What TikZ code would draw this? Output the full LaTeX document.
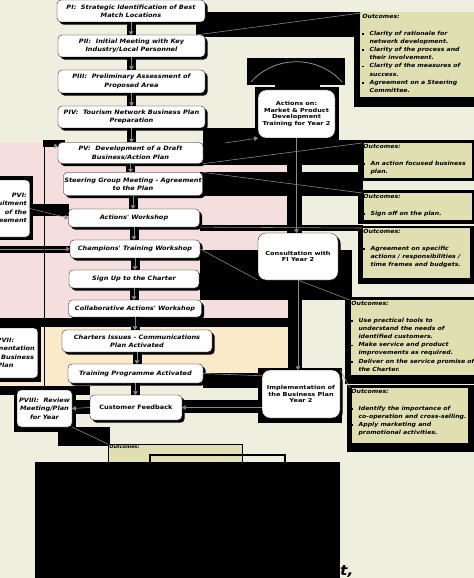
\documentclass[tikz,border=0pt]{standalone}
\usepackage{fontspec}
\usepackage{tikz}
\usetikzlibrary{arrows.meta,calc,shadows}

\newfontfamily\dvsans[FakeStretch=1.1,BoldFont={DejaVu Sans Bold},ItalicFont={DejaVu Sans Oblique},BoldItalicFont={DejaVu Sans Bold Oblique}]{DejaVu Sans}
\newfontfamily\dvwide[FakeStretch=1.2,BoldFont={DejaVu Sans Bold},ItalicFont={DejaVu Sans Oblique},BoldItalicFont={DejaVu Sans Bold Oblique}]{DejaVu Sans}

\definecolor{parchment}{RGB}{238,239,222}
\definecolor{pinkband}{RGB}{245,223,222}
\definecolor{beigeband}{RGB}{250,234,202}
\definecolor{outfill}{RGB}{224,223,178}
\definecolor{arrowgrey}{RGB}{140,140,140}

\newcommand{\stagefont}{\dvsans\bfseries\itshape\fontsize{8.5}{12}\selectfont}
\newcommand{\mktfont}{\dvwide\bfseries\fontsize{7.75}{9.5}\selectfont}
\newcommand{\outfont}{\dvsans\bfseries\itshape\fontsize{8}{11.6}\selectfont}
\newcommand{\obul}{\makebox[3.6mm][l]{\rule[0.6pt]{2.4pt}{2.4pt}}}
\newcommand{\oind}{\hspace*{3.6mm}}

\tikzset{
  stage/.style={draw=black, line width=0.4pt, fill=white, rounded corners=2mm, align=center,
    inner sep=0.5mm, font=\stagefont,
    drop shadow={shadow xshift=1.3mm, shadow yshift=-1.3mm, opacity=1, fill=black}},
  market/.style={stage, rounded corners=4mm, font=\mktfont},
  band/.style={fill=black},
  gline/.style={draw=arrowgrey, line width=0.8pt},
  garrow/.style={gline, -{Triangle[width=2.4mm, length=1.8mm]}},
  outtext/.style={anchor=north west, align=left, inner sep=0.6mm, font=\outfont},
}

\begin{document}
\begin{tikzpicture}[x=0.5mm, y=-0.5mm]
    \useasboundingbox (0,0) rectangle (474,578);
    \clip (0,0) rectangle (474,578);

    % background and bands
    \fill[parchment] (0,0) rectangle (474,578);
    \fill[pinkband] (0,143) rectangle (288,318);
    \fill[beigeband] (0,327) rectangle (288,386);

    % black blocks behind the chart
    \fill[band] (196,12) rectangle (362,37);
    \fill[band] (247,58) rectangle (345,85);
    \fill[band] (275,85) rectangle (320,90);
    \fill[band] (255,87) rectangle (339,141);
    \fill[band] (203,128) rectangle (258,150);
    \fill[band] (203,140) rectangle (363,165);
    \fill[band] (200,172) rectangle (363,196);
    \fill[band] (200,225) rectangle (363,231);
    \fill[band] (287,141) rectangle (302,233);
    \fill[band] (200,250) rectangle (352,300);
    \fill[band] (288,280) rectangle (302,370);
    \fill[band] (0,318) rectangle (302,327);
    \fill[band] (203,373) rectangle (262,388);
    \fill[band] (258,368) rectangle (342,423);
    \fill[band] (182,400) rectangle (262,413);
    \fill[band] (72,400) rectangle (90,414);
    \fill[band] (0,386) rectangle (90,395);
    \fill[band] (14,388) rectangle (76,432);
    \fill[band] (58,427) rectangle (110,446);
    \fill[band] (0,176) rectangle (33,240);
    \fill[band] (30,204) rectangle (69,216);
    \fill[band] (0,326) rectangle (41,382);
    \fill[band] (43,140) rectangle (65,147);
    \draw[arrowgrey, line width=1.2pt] (251,82) .. controls (275,55) and (318,55) .. (342,82);

    % outcome panels
    \fill[band] (354,12) rectangle (476,107);
    \fill[outfill] (360,12) rectangle (476,97);
    \fill[band] (358,140) rectangle (476,181);
    \fill[outfill] (364,143) rectangle (472,178);
    \fill[band] (358,190) rectangle (476,224);
    \fill[outfill] (364,193) rectangle (472,220);
    \fill[band] (358,226) rectangle (476,284);
    \fill[outfill] (363,228) rectangle (470,278);
    \fill[band] (345,297) rectangle (476,384);
    \fill[outfill] (351,300) rectangle (476,375);
    \fill[band] (347,385) rectangle (476,452);
    \fill[outfill] (352,388) rectangle (468,443);
    \filldraw[fill=outfill, draw=black, line width=0.4pt] (108,444) rectangle (242,466);
    \draw[line width=1.2mm] (150,455) rectangle (285,476);
    \fill[outfill] (152,457) rectangle (242,470);

    \node[outtext] (o1) at (361,13) {Outcomes:\\[4.3mm]
      \obul Clarity of rationale for\\ \oind network development.\\
      \obul Clarity of the process and\\ \oind their involvement.\\
      \obul Clarity of the measures of\\ \oind success.\\
      \obul Agreement on a Steering\\ \oind Committee.};
    \node[outtext] (o2) at (362,143) {Outcomes:\\[4.3mm]
      \obul An action focused business\\ \oind plan.};
    \node[outtext] (o3) at (362,193) {Outcomes:\\[4.3mm]
      \obul Sign off on the plan.};
    \node[outtext] (o4) at (362,228) {Outcomes:\\[4.3mm]
      \obul Agreement on specific\\ \oind actions / responsibilities /\\ \oind time frames and budgets.};
    \node[outtext] (o5) at (350,300) {Outcomes:\\[4.3mm]
      \obul Use practical tools to\\ \oind understand the needs of\\ \oind identified customers.\\
      \obul Make service and product\\ \oind improvements as required.\\
      \obul Deliver on the service promise of\\ \oind the Charter.};
    \node[outtext] (o6) at (350,388) {Outcomes:\\[4.3mm]
      \obul Identify the importance of\\ \oind co-operation and cross-selling.\\
      \obul Apply marketing and\\ \oind promotional activities.};
    \node[outtext, font=\dvsans\bfseries\itshape\fontsize{6.5}{7}\selectfont] (o7) at (108,444) {Outcomes:};

    % main stages
    \node[stage, minimum width=74mm, minimum height=11mm] (pI) at (131,11) {PI:\ \ Strategic Identification of Best\\Match Locations};
    \node[stage, minimum width=73.5mm, minimum height=11mm] (pII) at (131.5,46) {PII:\ \ Initial Meeting with Key\\Industry/Local Personnel};
    \node[stage, minimum width=73.5mm, minimum height=11.5mm] (pIII) at (131.5,81.5) {PIII:\ \ Preliminary Assessment of\\Proposed Area};
    \node[stage, minimum width=73.5mm, minimum height=11mm] (pIV) at (131.5,117) {PIV:\ \ Tourism Network Business Plan\\Preparation};
    \node[stage, minimum width=72.5mm, minimum height=10.5mm] (pV) at (130.5,153) {PV:\ \ Development of a Draft\\Business/Action Plan};
    \node[stage, minimum width=68mm, minimum height=11.5mm] (steer) at (133,184) {Steering Group Meeting - Agreement\\to the Plan};
    \node[stage, minimum width=65.5mm, minimum height=9mm] (actws) at (134,218) {Actions' Workshop};
    \node[stage, minimum width=65mm, minimum height=9mm] (champ) at (135,249) {Champions' Training Workshop};
    \node[stage, minimum width=65mm, minimum height=9mm] (signup) at (134,279) {Sign Up to the Charter};
    \node[stage, minimum width=66.5mm, minimum height=8.5mm] (collab) at (135,308.5) {Collaborative Actions' Workshop};
    \node[stage, minimum width=75mm, minimum height=11mm] (charter) at (137,341) {Charters Issues - Communications\\Plan Activated};
    \node[stage, minimum width=67.5mm, minimum height=9.5mm] (training) at (135.5,373.5) {Training Programme Activated};
    \node[stage, font=\dvsans\bfseries\fontsize{8.5}{10}\selectfont, minimum width=46mm, minimum height=12.5mm] (custfb) at (136,407.5) {Customer Feedback};
    \node[stage, minimum width=27.5mm, minimum height=18.5mm] (pVIII) at (44.5,408.5) {PVIII:\ \ Review\\Meeting/Plan\\for Year};
    \node[stage, anchor=east, align=right, minimum height=28.5mm, inner xsep=1.5mm] (pVI) at (30,208.5) {PVI:\\Recruitment\\of the\\Agreement};
    \node[stage, anchor=east, minimum height=25mm, inner xsep=1.5mm] (pVII) at (38,353) {PVII:\\Implementation\\of the Business\\Plan};

    % side actions
    \node[market, minimum width=38.5mm, minimum height=24mm] (actions) at (296.5,114) {Actions on:\\Market \& Product\\Development\\Training for Year 2};
    \node[market, minimum width=40mm, minimum height=23.5mm] (consult) at (298,256.5) {Consultation with\\FI Year 2};
    \node[market, minimum width=39mm, minimum height=24mm] (implement) at (301,394) {Implementation of\\the Business Plan\\Year 2};

    % main column arrows
    \foreach \a/\b in {pI/pII, pII/pIII, pIII/pIV, pIV/pV, pV/steer, steer/actws, actws/champ,
                       champ/signup, signup/collab, collab/charter, charter/training, training/custfb}
    {
      \fill[band] ($(\a.south)+(-4.5,0)$) rectangle ($(\a.south |- \b.north)+(4.5,0)$);
      \draw[garrow] (\a.south) -- (\a.south |- \b.north);
    }

    % links
    \coordinate (cI) at (196,35);
    \coordinate (cV) at (225,143);
    \coordinate (edgeVI) at (0,249);
    \draw[gline] (cI) -- (o1.north west);
    \draw[garrow] (cV) -- (actions.south west);
    \draw[gline] (pV.south east) -- (o2.north west);
    \draw[gline] (steer.north east) -- (o3.north west);
    \draw[gline] (actws.south east) -- (o4.north west);
    \draw[garrow] (actions.south) -- (actions.south |- consult.north);
    \draw[gline] (champ.east) -- (consult.south west);
    \draw[gline] (consult.south) -- (o5.north west);
    \draw[garrow] (consult.south) -- (consult.south |- implement.north);
    \draw[gline] (training.east) -- (implement.155);
    \draw[gline] (implement.north east) -- (o6.north west);
    \draw[garrow] (implement.west |- custfb.east) -- (custfb.east);
    \draw[garrow] (custfb.west) -- (pVIII.east);
    \draw[gline] (pVIII.south east) -- (o7.north west);
    \draw[garrow] (pVI.east) -- (actws.west);
    \fill[band] ($(edgeVI)+(0,-3.5)$) rectangle ($(champ.west)+(0,3.5)$);
    \draw[garrow] (edgeVI) -- (champ.west);
    \draw[line width=0.7mm, -{Triangle[color=arrowgrey, width=2.4mm, length=1.8mm]}]
      (pVIII.north) |- ([yshift=3.5mm]pV.west);

    % bottom block
    \fill[band] (35,462) rectangle (340,578);
    \node[anchor=base west, inner sep=0pt, font=\dvsans\bfseries\itshape\fontsize{20}{22}\selectfont] (tail) at (340,575) {t,};
\end{tikzpicture}
\end{document}
